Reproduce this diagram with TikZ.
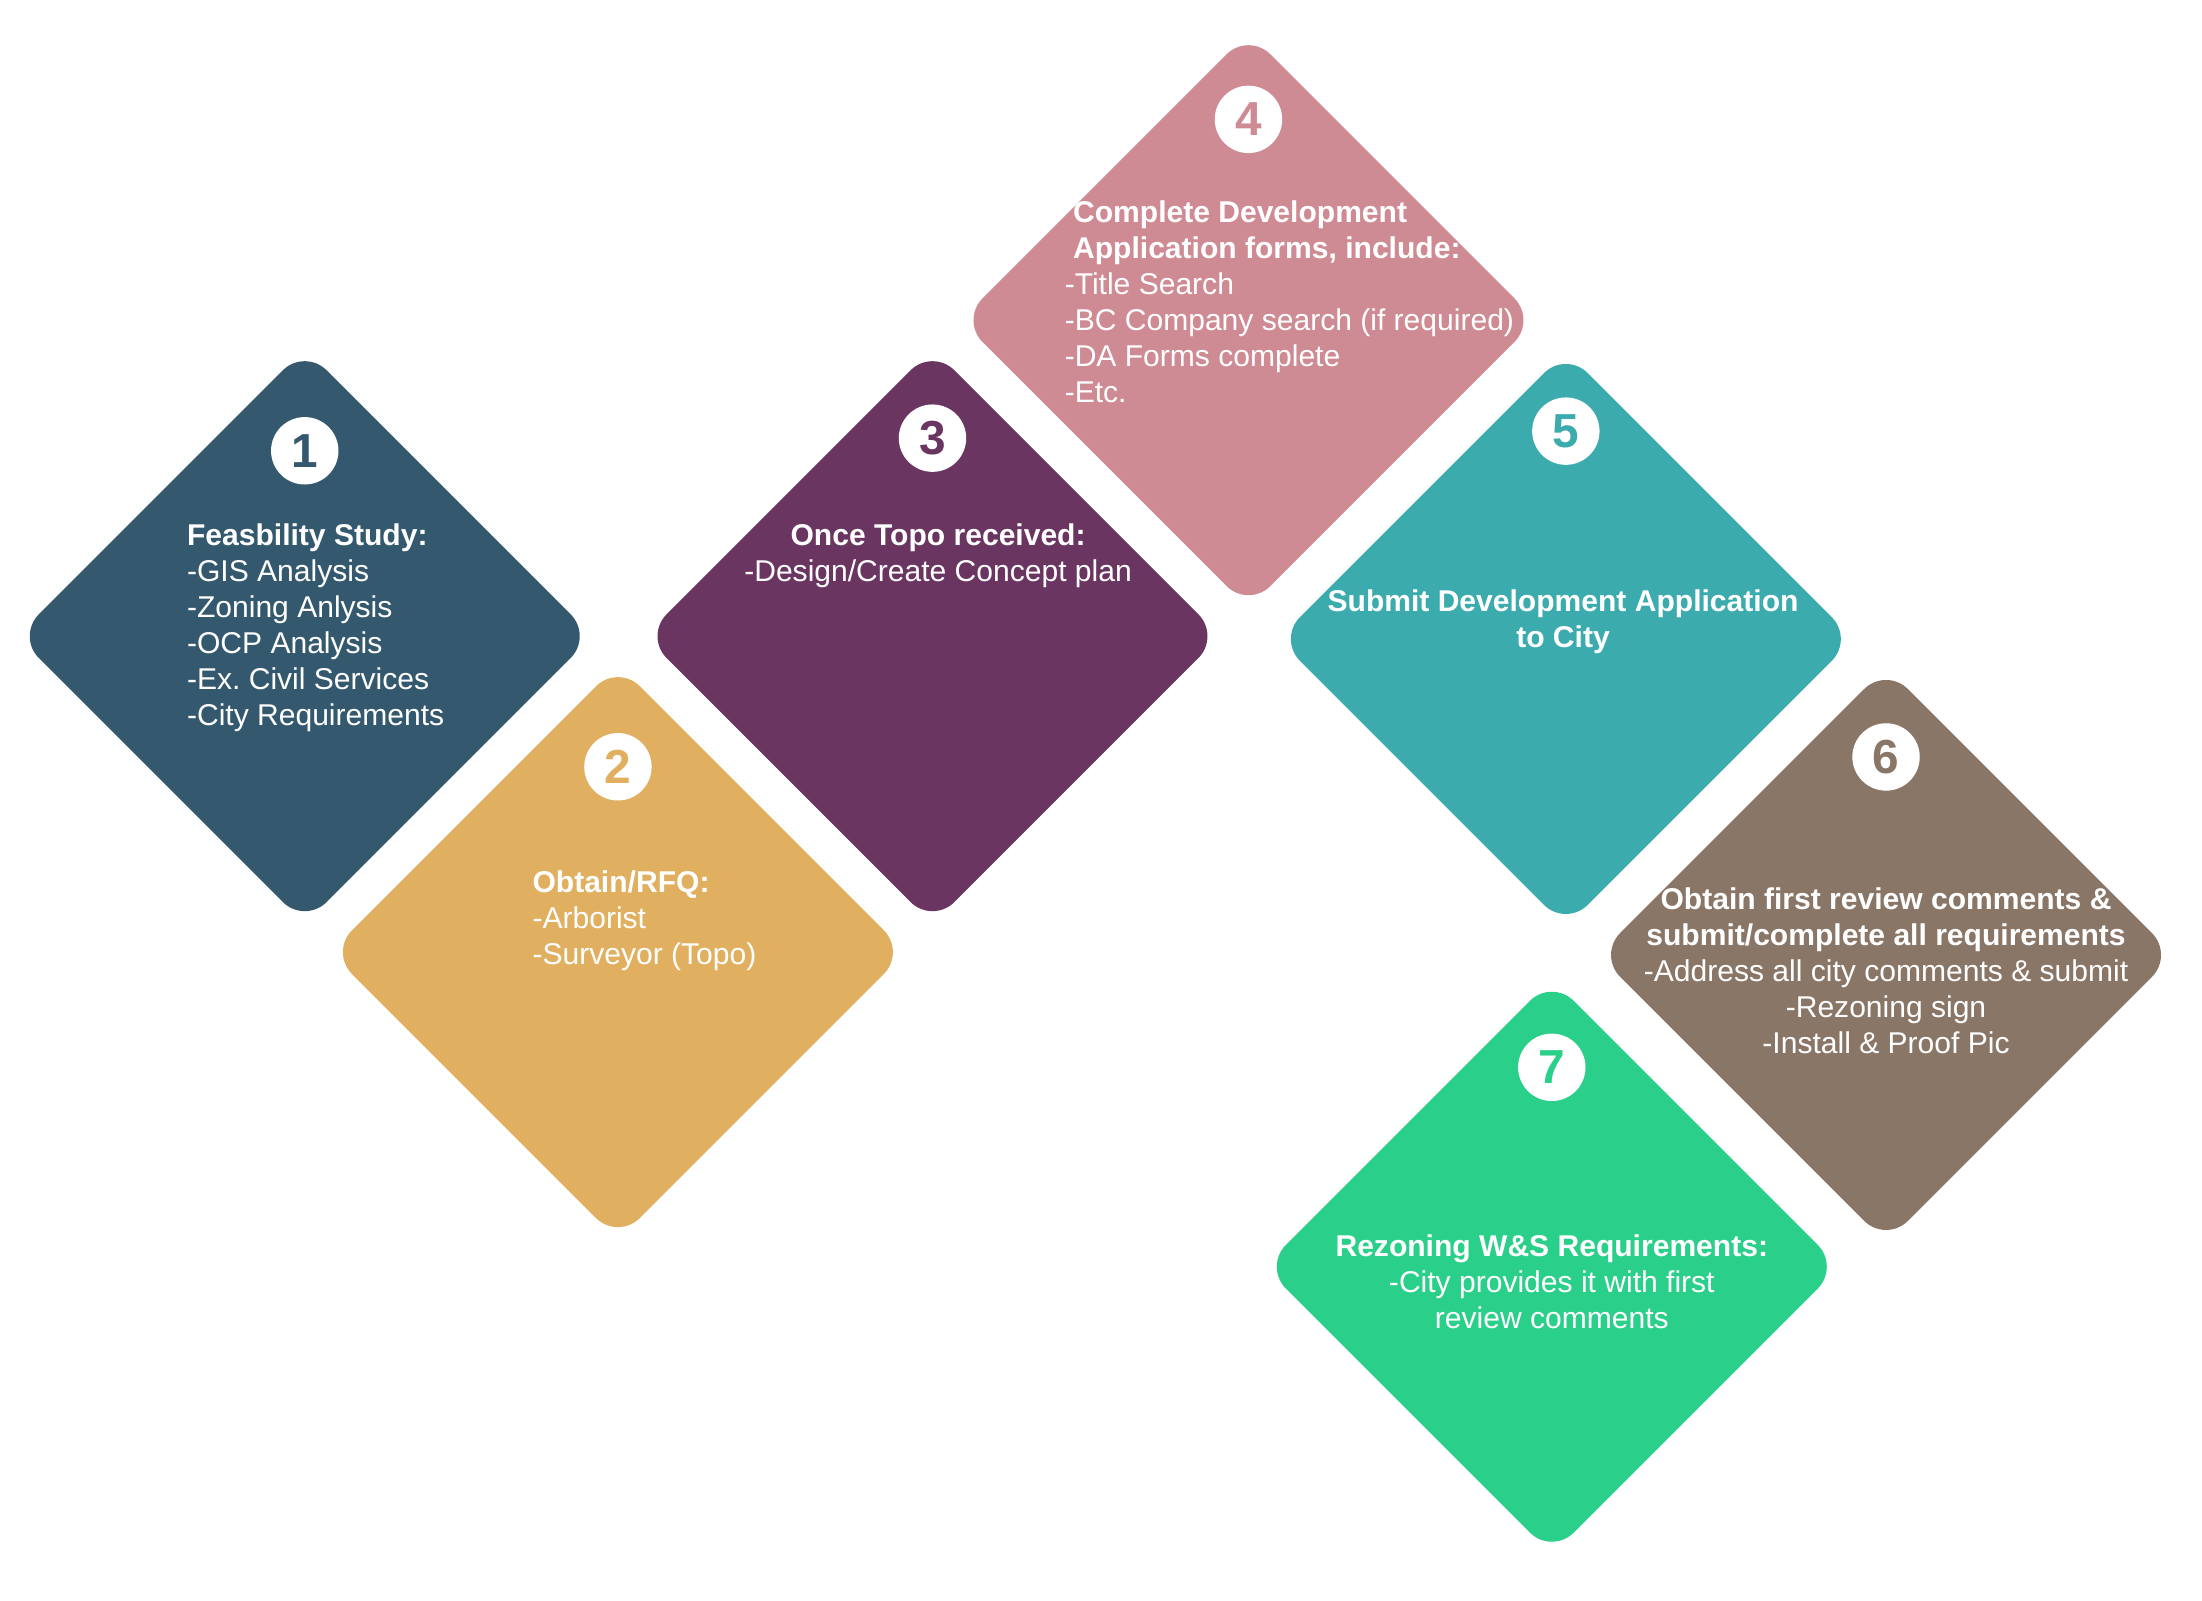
\documentclass[tikz,border=0pt]{standalone}
\usepackage{fontspec}
\setmainfont{Liberation Sans}
\frenchspacing
\usetikzlibrary{shapes.geometric}
\definecolor{feascol}{HTML}{34596F}
\definecolor{rfqcol}{HTML}{E0B060}
\definecolor{topocol}{HTML}{6A3561}
\definecolor{formcol}{HTML}{CF8B94}
\definecolor{submitcol}{HTML}{3CABAE}
\definecolor{reviewcol}{HTML}{8A7667}
\definecolor{rezonecol}{HTML}{2ACF8A}
\tikzset{
  tile/.style={diamond, aspect=1, minimum size=410pt, inner sep=0pt, rounded corners=22pt, fill=#1},
  badge/.style={circle, fill=white, minimum size=48pt, inner sep=0pt, text=#1, font=\fontsize{34}{34}\selectfont\bfseries},
  tiletext/.style={text=white, inner sep=0pt, font=\fontsize{21.4}{25.6}\selectfont},
}
\begin{document}
\begin{tikzpicture}[x=1pt, y=-1pt]
                \useasboundingbox (0,0) rectangle (1568,1140);

                \node[tile=feascol] (feas) at (217,453) {};
                \node[tile=rfqcol] (rfq) at (440,678) {};
                \node[tile=topocol] (topo) at (664,453) {};
                \node[tile=formcol] (forms) at (889,228) {};
                \node[tile=submitcol] (submit) at (1115,455) {};
                \node[tile=reviewcol] (review) at (1343,680) {};
                \node[tile=rezonecol] (rezone) at (1105,902) {};

                \node[badge=feascol] (n1) at (217,321) {1};
                \node[badge=rfqcol] (n2) at (440,546) {2};
                \node[badge=topocol] (n3) at (664,312) {3};
                \node[badge=formcol] (n4) at (889,85) {4};
                \node[badge=submitcol] (n5) at (1115,307) {5};
                \node[badge=reviewcol] (n6) at (1343,539) {6};
                \node[badge=rezonecol] (n7) at (1105,760) {7};

                \node[tiletext, align=left, anchor=north west] (t1) at (133,373) {\textbf{Feasbility Study:}\\-GIS Analysis\\-Zoning Anlysis\\-OCP Analysis\\-Ex. Civil Services\\-City Requirements};
                \node[tiletext, align=left, anchor=north west] (t2) at (379,620) {\textbf{Obtain/RFQ:}\\-Arborist\\-Surveyor (Topo)};
                \node[tiletext, align=center, anchor=north] (t3) at (668,373) {\textbf{Once Topo received:}\\-Design/Create Concept plan};
                \node[tiletext, align=left, anchor=north west] (t4) at (758,143) {\textbf{\ Complete Development}\\\textbf{\ Application forms, include:}\\-Title Search\\-BC Company search (if required)\\-DA Forms complete\\-Etc.};
                \node[tiletext, align=center, anchor=north] (t5) at (1113,420) {\textbf{Submit Development Application}\\\textbf{to City}};
                \node[tiletext, align=center, anchor=north] (t6) at (1343,632) {\textbf{Obtain first review comments \&}\\\textbf{submit/complete all requirements}\\-Address all city comments \& submit\\-Rezoning sign\\-Install \& Proof Pic};
                \node[tiletext, align=center, anchor=north] (t7) at (1105,879) {\textbf{Rezoning W\&S Requirements:}\\-City provides it with first\\review comments};
            \end{tikzpicture}
\end{document}
